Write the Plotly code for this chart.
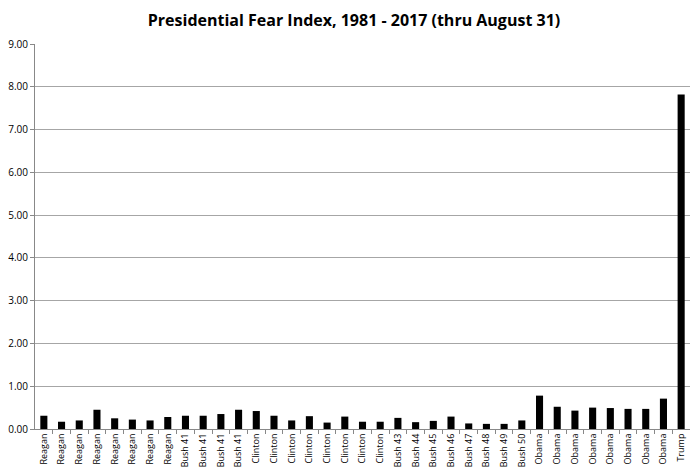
import plotly.graph_objects as go

presidents = (["Reagan"] * 8 + ["Bush 41"] * 4 + ["Clinton"] * 8
              + ["Bush 43", "Bush 44", "Bush 45", "Bush 46",
                 "Bush 47", "Bush 48", "Bush 49", "Bush 50"]
              + ["Obama"] * 8 + ["Trump"])
fear_index = [0.31, 0.17, 0.20, 0.45, 0.25, 0.22, 0.20, 0.28,
              0.31, 0.31, 0.35, 0.45,
              0.42, 0.31, 0.20, 0.30, 0.15, 0.29, 0.17, 0.17,
              0.26, 0.16, 0.19, 0.29, 0.13, 0.12, 0.12, 0.20,
              0.78, 0.52, 0.43, 0.50, 0.49, 0.47, 0.47, 0.71,
              7.82]
y_ticks = [0, 1, 2, 3, 4, 5, 6, 7, 8, 9]

# numeric positions so repeated names stay separate bars
pos = list(range(len(presidents)))

fig = go.Figure(go.Bar(x=pos, y=fear_index, marker_color="black",
                       marker_line_width=0))

# page body adds an 8px margin, so the figure is 8px smaller
fig.update_layout(
    width=692, height=464,
    margin=dict(l=27, r=10, t=36, b=43),
    paper_bgcolor="white", plot_bgcolor="white",
    bargap=0.6,
    showlegend=False,
    font=dict(family="Open Sans", color="black"),
    title=dict(text="<b>Presidential Fear Index, 1981 - 2017 (thru August 31)</b>",
               x=0.5, xanchor="center", y=0.974, yanchor="middle",
               font=dict(size=16, family="Open Sans", color="black")),
)
fig.update_xaxes(
    range=[-0.5, len(presidents) - 0.5],
    tickmode="array", tickvals=pos, ticktext=presidents,
    tickangle=-90, tickfont=dict(size=9),
    ticks="", showgrid=False, automargin=False,
    showline=True, linecolor="#888888", linewidth=1,
    minor=dict(tickvals=[p + 0.5 for p in pos[:-1]], ticks="outside",
               ticklen=4, tickcolor="#888888", showgrid=False),
)
fig.update_yaxes(
    range=[0, 9], tickvals=y_ticks, tickformat=".2f",
    tickfont=dict(size=10), automargin=False,
    showgrid=True, gridcolor="#a6a6a6", gridwidth=1,
    showline=True, linecolor="#888888", linewidth=1,
    ticks="outside", ticklen=4, tickcolor="#888888",
    zeroline=False,
)

fig.write_html("out.html")
